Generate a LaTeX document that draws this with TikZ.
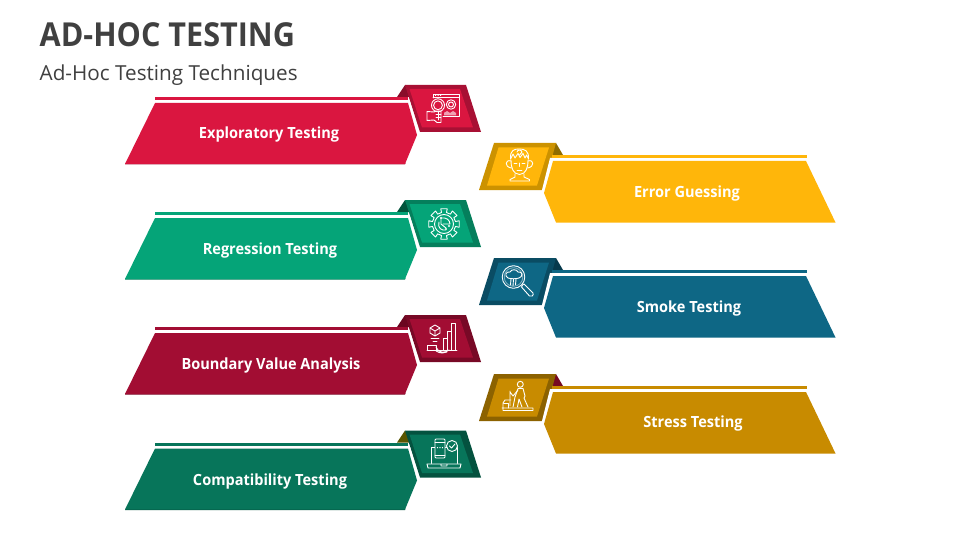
\documentclass[tikz,border=0pt]{standalone}
\usepackage{fontspec}
\setmainfont{Open Sans}
\newfontfamily\lblfont[FakeStretch=0.945]{Open Sans}
\newfontfamily\titlefont[FakeStretch=0.927]{Open Sans}
\usetikzlibrary{calc}
\definecolor{redA}{HTML}{DA1640}\definecolor{redB}{HTML}{A81034}\definecolor{redC}{HTML}{8A0D2A}
\definecolor{yelA}{HTML}{FFB60A}\definecolor{yelB}{HTML}{CC9200}\definecolor{yelC}{HTML}{8F6C00}
\definecolor{teaA}{HTML}{05A478}\definecolor{teaB}{HTML}{057F5C}\definecolor{teaC}{HTML}{03543C}
\definecolor{bluA}{HTML}{0E6785}\definecolor{bluB}{HTML}{0A4C63}\definecolor{bluC}{HTML}{073A4C}
\definecolor{marA}{HTML}{A20D33}\definecolor{marB}{HTML}{780926}\definecolor{marC}{HTML}{6B0620}
\definecolor{ochA}{HTML}{C88B00}\definecolor{ochB}{HTML}{8C6200}\definecolor{ochC}{HTML}{760A22}
\definecolor{greA}{HTML}{07755A}\definecolor{greB}{HTML}{04523F}\definecolor{greC}{HTML}{5A5500}
\definecolor{ink}{HTML}{404040}
\tikzset{
  titletext/.style={anchor=base west,inner sep=0,text=ink,font=\fontsize{33}{33}\selectfont\titlefont\bfseries},
  subtext/.style={anchor=base west,inner sep=0,text=ink,font=\fontsize{20.7}{21}\selectfont},
  lbl/.style={inner sep=0,text=white,font=\fontsize{15.4}{16}\selectfont\lblfont\bfseries},
  ico/.style={draw=white,line width=0.9pt,line join=round,line cap=round},
}
% #1 dy, #2 main, #3 dark, #4 triangle
\newcommand{\leftbanner}[4]{%
  \begin{scope}[yshift=-#1pt]
    \fill[#4] (397,97) -- (405,85) -- (411,97) -- cycle;
    \fill[#3] (405,85) -- (466,85) -- (481,132) -- (420,132) -- cycle;
    \fill[#2] (409.5,89) -- (460,89) -- (473,127.5) -- (422,127.5) -- cycle;
    \fill[white] (398,100) -- (409.5,100) -- (420,135) -- (414,150) -- (398,150) -- cycle;
    \fill[#2] (155,97) rectangle (408,100);
    \fill[#3] (155,164.5) -- (405,164.5) -- (405.5,163) -- (125.6,163) -- (125,164.5) -- cycle;
    \fill[#2] (155,103) -- (408,103) -- (417,135) -- (405,164) -- (125,164) -- cycle;
  \end{scope}}
\newcommand{\rightbanner}[4]{%
  \begin{scope}[yshift=-#1pt]
    \fill[#4] (548,155) -- (556,143) -- (563,155) -- cycle;
    \fill[#3] (494,143) -- (556,143) -- (543,190) -- (479,190) -- cycle;
    \fill[#2] (498.5,147.5) -- (549,147.5) -- (537,185.5) -- (487,185.5) -- cycle;
    \fill[white] (550,158) -- (565,158) -- (565,200) -- (545,200) -- (541.2,193) -- cycle;
    \fill[#2] (552,155) rectangle (807,158);
    \fill[#2] (553,161) -- (806,161) -- (835.5,222.5) -- (556,222.5) -- (544,193) -- cycle;
  \end{scope}}
\begin{document}
\begin{tikzpicture}[x=1pt,y=-1pt]
\useasboundingbox (0,0) rectangle (960,540);
\fill[white] (0,0) rectangle (960,540);
\node[titletext] (title) at (39.5,46.5) {AD-HOC TESTING};
\node[subtext] (subtitle) at (39.5,80.5) {Ad-Hoc Testing Techniques};
\leftbanner{0}{redA}{redB}{redC}
\leftbanner{115}{teaA}{teaB}{teaC}
\leftbanner{230}{marA}{marB}{marC}
\leftbanner{345.5}{greA}{greB}{greC}
\rightbanner{0}{yelA}{yelB}{yelC}
\rightbanner{115}{bluA}{bluB}{bluC}
\rightbanner{231}{ochA}{ochB}{ochC}
\node[lbl] (l1) at (269,135) {Exploratory Testing};
\node[lbl] (l2) at (270,250) {Regression Testing};
\node[lbl] (l3) at (271,365) {Boundary Value Analysis};
\node[lbl] (l4) at (270,481) {Compatibility Testing};
\node[lbl] (r1) at (687,193) {Error Guessing};
\node[lbl] (r2) at (689,308) {Smoke Testing};
\node[lbl] (r3) at (693,423) {Stress Testing};
% icon 1: exploratory
\begin{scope}[ico]
  \draw (433,98) -- (433,94) -- (459,94) -- (459,116) -- (443,116);
  \draw (433,97.5) -- (459,97.5);
  \fill[white,draw=none] (435,95) rectangle +(1,1) (437.5,95) rectangle +(1,1) (440,95) rectangle +(1,1);
  \draw (438,105.3) circle (6.5) (438,105.3) circle (4.4);
  \draw (451,104.5) circle (4.7) (451,104.5) circle (2.5);
  \draw (427,111.5) -- (434,112) -- (436,111) -- (441,111) -- (441,122.5) -- (437,122.5) -- (434,120) -- (427,120.5) -- cycle;
  \draw (436,114) -- (441,114) (436,117) -- (441,117) (438,111) -- (438,120);
  \fill[white,opacity=.6,draw=none] (444,112) -- (444,113) -- (447,111) -- (450,113) -- (453,111) -- (456,113) -- (456,115.5) -- (444,115.5) -- cycle;
\end{scope}
% icon 2: head
\begin{scope}[ico]
  \draw (510.5,159) .. controls (510,150) and (514,149) .. (519.5,149) .. controls (525,149) and (529,151) .. (528.5,159);
  \draw (511,160) .. controls (511,168) and (513,174) .. (519.5,174.5) .. controls (526,174) and (528,168) .. (528,160);
  \draw (510.5,159) -- (513,154) -- (515,158) -- (518,153.5) -- (520,157.5) -- (523,153.5) -- (525,158) -- (526.5,155) -- (528.5,159);
  \draw (517,152) .. controls (517,149.5) and (522,149.5) .. (522,152) .. controls (522,153.5) and (519.5,153.5) .. (519.5,155);
  \draw (511,161) .. controls (505,159) and (504,167) .. (511.5,168);
  \draw (528,161) .. controls (534,159) and (535,167) .. (527.5,168);
  \draw (514,163.5) -- (517,163.5) (522,163.5) -- (525,163.5) (519.5,163) -- (519.5,166.5) (517,170) -- (522,170);
  \draw (515,174) -- (515,177) -- (510,179.5) -- (510,181) -- (529.5,181) -- (529.5,179.5) -- (524,177) -- (524,174);
\end{scope}
% icon 3: gear
\begin{scope}[ico]
  \draw plot[smooth cycle,tension=0.12] coordinates {
    ({444+11.8*cos(-12)},{224+11.8*sin(-12)}) ({444+15.5*cos(-12)},{224+15.5*sin(-12)}) ({444+15.5*cos(12)},{224+15.5*sin(12)}) ({444+11.8*cos(12)},{224+11.8*sin(12)})
    ({444+11.8*cos(33)},{224+11.8*sin(33)}) ({444+15.5*cos(33)},{224+15.5*sin(33)}) ({444+15.5*cos(57)},{224+15.5*sin(57)}) ({444+11.8*cos(57)},{224+11.8*sin(57)})
    ({444+11.8*cos(78)},{224+11.8*sin(78)}) ({444+15.5*cos(78)},{224+15.5*sin(78)}) ({444+15.5*cos(102)},{224+15.5*sin(102)}) ({444+11.8*cos(102)},{224+11.8*sin(102)})
    ({444+11.8*cos(123)},{224+11.8*sin(123)}) ({444+15.5*cos(123)},{224+15.5*sin(123)}) ({444+15.5*cos(147)},{224+15.5*sin(147)}) ({444+11.8*cos(147)},{224+11.8*sin(147)})
    ({444+11.8*cos(168)},{224+11.8*sin(168)}) ({444+15.5*cos(168)},{224+15.5*sin(168)}) ({444+15.5*cos(192)},{224+15.5*sin(192)}) ({444+11.8*cos(192)},{224+11.8*sin(192)})
    ({444+11.8*cos(213)},{224+11.8*sin(213)}) ({444+15.5*cos(213)},{224+15.5*sin(213)}) ({444+15.5*cos(237)},{224+15.5*sin(237)}) ({444+11.8*cos(237)},{224+11.8*sin(237)})
    ({444+11.8*cos(258)},{224+11.8*sin(258)}) ({444+15.5*cos(258)},{224+15.5*sin(258)}) ({444+15.5*cos(282)},{224+15.5*sin(282)}) ({444+11.8*cos(282)},{224+11.8*sin(282)})
    ({444+11.8*cos(303)},{224+11.8*sin(303)}) ({444+15.5*cos(303)},{224+15.5*sin(303)}) ({444+15.5*cos(327)},{224+15.5*sin(327)}) ({444+11.8*cos(327)},{224+11.8*sin(327)})
  };
  \draw (444,224) circle (9.5);
  \draw (441,217.5) -- (441,224) -- (446,228) (439,222) .. controls (437,228) and (442,231) .. (446,230);
  \draw (441,218) .. controls (446,217) and (450,220) .. (450,224) -- (443,224);
  \fill[white,draw=none] (441,218) circle (1.1) (449,226) circle (1.1) (446,229) circle (1.1);
\end{scope}
% icon 4: smoke
\begin{scope}[ico]
  \draw (513.5,277) circle (11.3);
  \draw[opacity=.45] (513.5,277) circle (9.3);
  \draw (508,278) .. controls (504,276) and (506,271) .. (510,272) .. controls (511,269) and (517,269) .. (518,272) .. controls (523,271) and (523,277) .. (519,278) .. controls (516,279) and (511,279) .. (508,278);
  \draw (511,279) -- (510.5,285) (513.5,279) -- (513,286) (516,279) -- (515.5,285);
  \draw (522.5,285) -- (524,284) -- (533,293) .. controls (534,296) and (531,297) .. (529.5,296) -- (521.5,287) -- cycle;
\end{scope}
% icon 5: boundary
\begin{scope}[ico]
  \draw (435,325) -- (440,328) -- (440,333) -- (435,336) -- (430,333) -- (430,328) -- cycle (430,328) -- (435,331) -- (440,328) (435,331) -- (435,336);
  \draw (431,338.5) -- (439,338.5) (433,341) -- (437,341);
  \draw (427,345) rectangle (436,350);
  \draw (443.3,350) |- (447.3,338.7) (447.3,350) |- (451.3,331) (451.3,350) |- (455.7,323) -- (455.7,350);
  \draw (427,350) -- (457,350);
  \draw (436,347) .. controls (438,353) and (445,353.5) .. (449,350) (436,351) .. controls (441,354) and (444,353) .. (447,352);
\end{scope}
% icon 6: stress
\begin{scope}[ico]
  \draw (520.3,384.3) circle (3);
  \draw (518,388.5) -- (523,388.5) -- (525,396) -- (524,398) -- (528,407) (518,388.5) -- (515,397) -- (513,407) (519,399) -- (517.5,407) (519,399) -- (522,407);
  \draw (518,390) -- (513,396) -- (510,392) (510,391) -- (510,406);
  \draw (502,408) -- (533,408) -- (533,410.5) -- (503,410.5) -- (503,403) -- (505,400) -- (511,400);
  \draw (503.5,403) -- (508,403) -- (508,408);
\end{scope}
% icon 7: compatibility
\begin{scope}[ico]
  \draw (435,447) -- (431,447) -- (431,463.5) (445,447) -- (457,447) -- (457,463.5);
  \draw (427,464) -- (461,464) -- (460,468) -- (428,468) -- cycle (441,464) -- (441,466) -- (447,466) -- (447,464);
  \draw[rounded corners=1pt,fill=greA] (435,439) rectangle (445,458);
  \draw (435,442) -- (445,442) (435,455) -- (445,455);
  \fill[white,draw=none] (437.5,447.6) circle (.7) (440,447.6) circle (.7) (442.5,447.6) circle (.7);
  \draw[fill=greA] (452,446) circle (5.5);
  \draw (449.5,446) -- (451.5,448) -- (455,444);
\end{scope}
\end{tikzpicture}
\end{document}
